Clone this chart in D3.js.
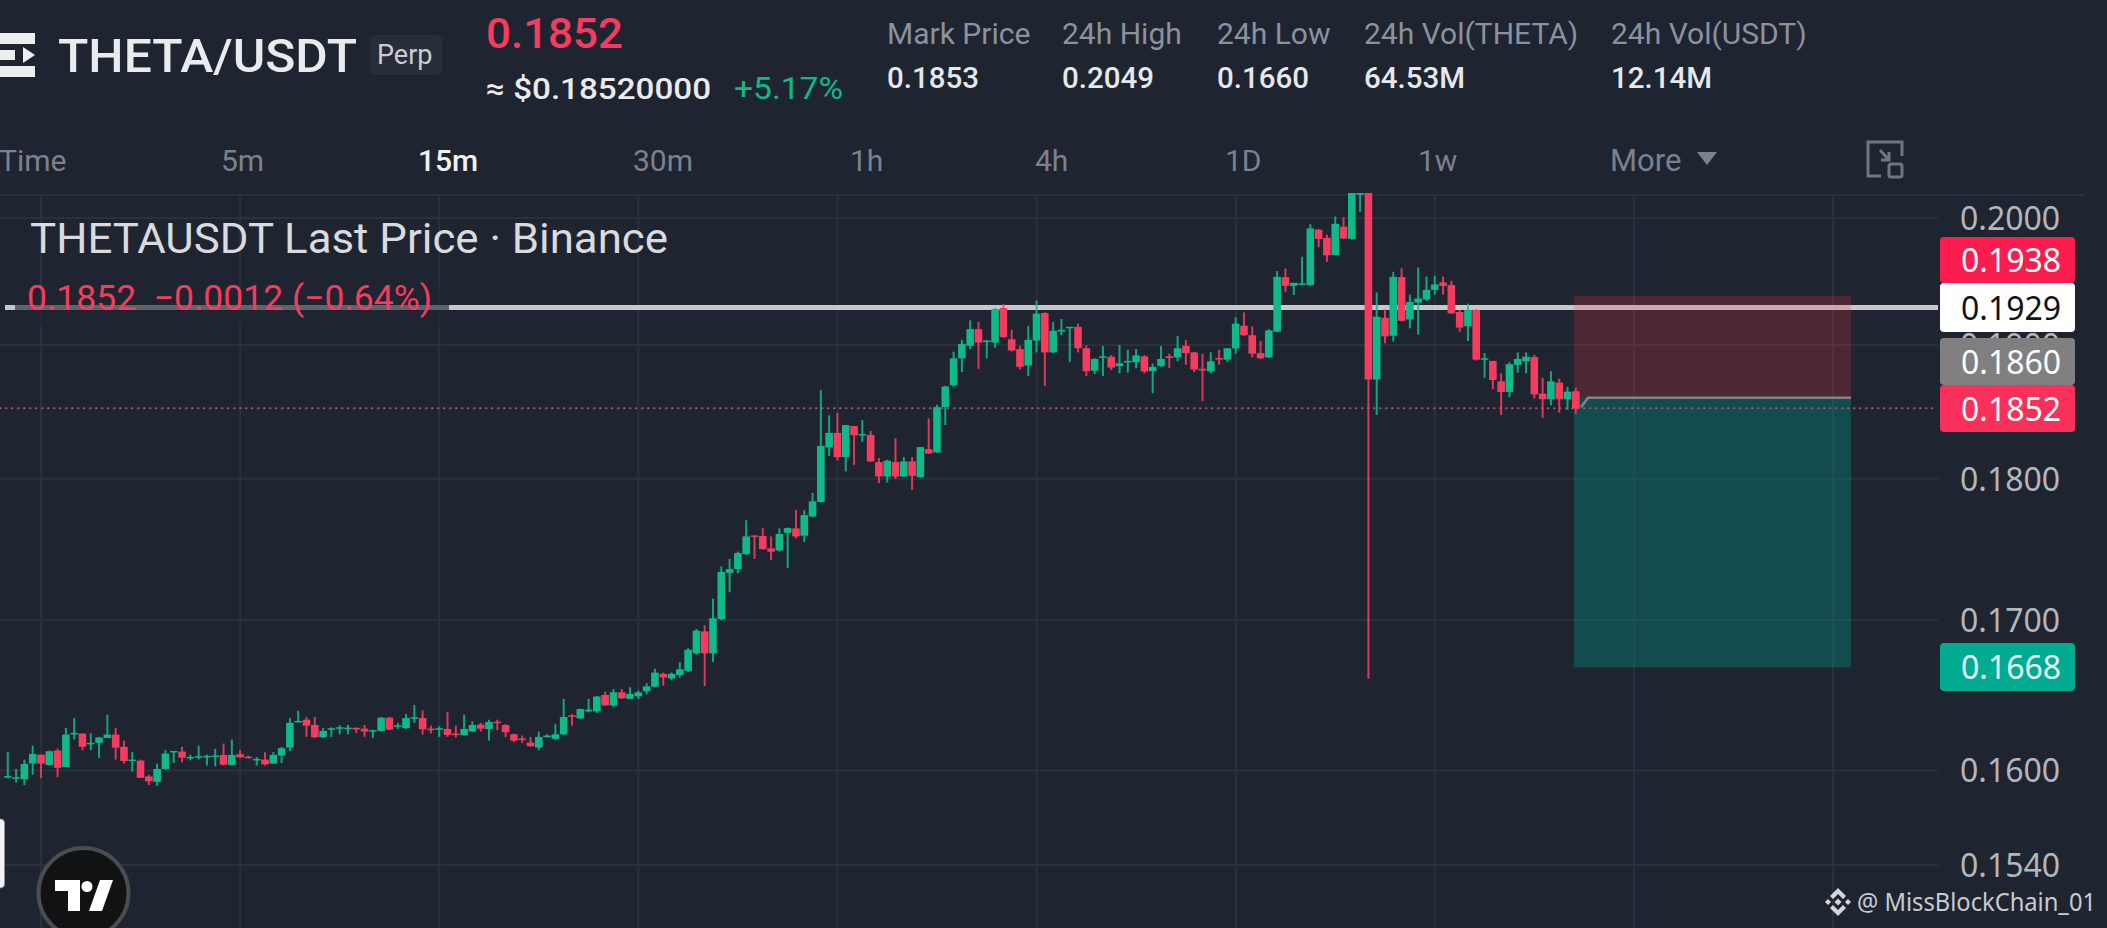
<!DOCTYPE html>
<html>
<head>
<meta charset="utf-8">
<title>THETA/USDT</title>
<script src="https://cdn.jsdelivr.net/npm/d3@7"></script>
<style>
  html, body { margin: 0; padding: 0; background: #1e2531; overflow: hidden; }
  svg { display: block; }
  text { font-family: Roboto, sans-serif; }
  .axis-text { font-family: "Noto Sans", sans-serif; }
</style>
</head>
<body>
<div id="chart"></div>
<script>
// 15m candles
const opens = [
  0.15956,0.15948,0.15943,0.16044,0.16102,0.16035,0.16129,0.16022,0.16235,0.16240,
  0.16170,0.16179,0.16211,0.16233,0.16153,0.16061,0.16063,0.15961,0.15926,0.16009,
  0.16122,0.16122,0.16081,0.16083,0.16087,0.16087,0.16100,0.16035,0.16105,0.16089,
  0.16070,0.16070,0.16044,0.16096,0.16148,0.16316,0.16331,0.16296,0.16216,0.16268,
  0.16275,0.16275,0.16277,0.16272,0.16257,0.16257,0.16344,0.16288,0.16275,0.16340,
  0.16342,0.16272,0.16268,0.16270,0.16240,0.16229,0.16253,0.16299,0.16270,0.16318,
  0.16296,0.16235,0.16207,0.16181,0.16148,0.16218,0.16205,0.16235,0.16360,0.16340,
  0.16386,0.16386,0.16495,0.16425,0.16513,0.16469,0.16486,0.16519,0.16550,0.16636,
  0.16605,0.16629,0.16656,0.16775,0.16924,0.16775,0.17009,0.17329,0.17355,0.17461,
  0.17593,0.17589,0.17501,0.17487,0.17612,0.17643,0.17591,0.17728,0.17832,0.18229,
  0.18337,0.18159,0.18388,0.18320,0.18322,0.18122,0.18017,0.18122,0.18017,0.18127,
  0.18012,0.18217,0.18193,0.18529,0.18693,0.18898,0.18993,0.19122,0.19023,0.19018,
  0.19286,0.19044,0.18968,0.18843,0.19034,0.19247,0.18943,0.19104,0.19130,0.19140,
  0.18975,0.18803,0.18905,0.18910,0.18838,0.18868,0.18868,0.18913,0.18800,0.18838,
  0.18913,0.18905,0.18993,0.18943,0.18818,0.18798,0.18900,0.18888,0.18973,0.19148,
  0.19075,0.18938,0.18905,0.19102,0.19528,0.19459,0.19467,0.19465,0.19906,0.19840,
  0.19703,0.19929,0.19832,0.20189,0.20400,0.18737,0.19210,0.19071,0.19528,0.19197,
  0.19328,0.19352,0.19428,0.19486,0.19465,0.19255,0.19144,0.19270,0.18888,0.18878,
  0.18723,0.18643,0.18848,0.18875,0.18908,0.18630,0.18588,0.18713,0.18588,0.18648,
];
const highs = [
  0.16120,0.16009,0.16070,0.16161,0.16102,0.16129,0.16142,0.16277,0.16342,0.16240,
  0.16240,0.16218,0.16364,0.16277,0.16194,0.16120,0.16070,0.15972,0.16044,0.16131,
  0.16126,0.16153,0.16102,0.16161,0.16102,0.16140,0.16174,0.16201,0.16131,0.16096,
  0.16087,0.16118,0.16118,0.16153,0.16342,0.16390,0.16349,0.16349,0.16277,0.16281,
  0.16294,0.16296,0.16281,0.16296,0.16266,0.16349,0.16349,0.16310,0.16368,0.16429,
  0.16392,0.16292,0.16288,0.16382,0.16292,0.16364,0.16320,0.16310,0.16331,0.16331,
  0.16301,0.16240,0.16227,0.16218,0.16253,0.16235,0.16301,0.16469,0.16368,0.16405,
  0.16469,0.16488,0.16517,0.16535,0.16535,0.16546,0.16524,0.16574,0.16671,0.16645,
  0.16645,0.16715,0.16810,0.16941,0.16965,0.17149,0.17374,0.17426,0.17478,0.17702,
  0.17593,0.17645,0.17586,0.17643,0.17650,0.17775,0.17773,0.17898,0.18657,0.18468,
  0.18488,0.18395,0.18388,0.18432,0.18351,0.18151,0.18139,0.18298,0.18159,0.18159,
  0.18232,0.18444,0.18547,0.18690,0.18948,0.19039,0.19190,0.19179,0.19039,0.19286,
  0.19317,0.19117,0.18993,0.19148,0.19343,0.19252,0.19177,0.19200,0.19140,0.19164,
  0.18995,0.18898,0.18993,0.18923,0.19000,0.18963,0.18970,0.18923,0.18858,0.18993,
  0.18933,0.19070,0.19039,0.18948,0.18933,0.18945,0.18963,0.18975,0.19213,0.19252,
  0.19143,0.19031,0.19122,0.19577,0.19596,0.19483,0.19690,0.19950,0.19911,0.19866,
  0.20011,0.20005,0.20440,0.20490,0.20490,0.19407,0.19276,0.19570,0.19598,0.19391,
  0.19604,0.19533,0.19538,0.19533,0.19499,0.19270,0.19320,0.19276,0.18938,0.18878,
  0.18783,0.18868,0.18943,0.18943,0.18925,0.18750,0.18800,0.18743,0.18683,0.18675,
];
const lows = [
  0.15948,0.15922,0.15906,0.15972,0.15950,0.16031,0.15956,0.16022,0.16201,0.16131,
  0.16131,0.16081,0.16211,0.16070,0.16044,0.15993,0.15952,0.15906,0.15900,0.16004,
  0.16048,0.16052,0.16065,0.16070,0.16031,0.16026,0.16031,0.16031,0.16081,0.16076,
  0.16031,0.16031,0.16044,0.16048,0.16124,0.16314,0.16218,0.16211,0.16211,0.16218,
  0.16235,0.16235,0.16244,0.16218,0.16211,0.16253,0.16262,0.16270,0.16270,0.16310,
  0.16233,0.16240,0.16218,0.16218,0.16214,0.16227,0.16249,0.16253,0.16194,0.16262,
  0.16216,0.16183,0.16179,0.16153,0.16131,0.16214,0.16196,0.16231,0.16292,0.16336,
  0.16379,0.16375,0.16425,0.16414,0.16469,0.16469,0.16469,0.16499,0.16546,0.16557,
  0.16592,0.16612,0.16649,0.16764,0.16554,0.16716,0.17000,0.17194,0.17326,0.17454,
  0.17426,0.17492,0.17418,0.17478,0.17362,0.17572,0.17548,0.17723,0.17827,0.18168,
  0.18134,0.18054,0.18102,0.18271,0.18124,0.17969,0.17973,0.17998,0.18012,0.17920,
  0.18007,0.18183,0.18188,0.18395,0.18683,0.18793,0.18968,0.18818,0.18898,0.18978,
  0.19055,0.18950,0.18813,0.18763,0.18943,0.18688,0.18938,0.19075,0.18868,0.18943,
  0.18763,0.18778,0.18763,0.18808,0.18783,0.18788,0.18823,0.18783,0.18633,0.18833,
  0.18825,0.18875,0.18848,0.18793,0.18575,0.18783,0.18850,0.18868,0.18933,0.19070,
  0.18905,0.18893,0.18900,0.19097,0.19412,0.19388,0.19465,0.19459,0.19766,0.19648,
  0.19701,0.19832,0.19827,0.20050,0.16604,0.18472,0.19013,0.19026,0.19181,0.19128,
  0.19079,0.19341,0.19391,0.19391,0.19239,0.19102,0.19031,0.18880,0.18750,0.18663,
  0.18470,0.18603,0.18788,0.18783,0.18593,0.18448,0.18543,0.18488,0.18508,0.18478,
];
const closes = [
  0.15963,0.15956,0.16041,0.16107,0.16044,0.16124,0.16017,0.16233,0.16244,0.16153,
  0.16179,0.16214,0.16233,0.16148,0.16061,0.16070,0.15952,0.15930,0.16009,0.16109,
  0.16126,0.16083,0.16087,0.16092,0.16094,0.16096,0.16037,0.16100,0.16085,0.16083,
  0.16074,0.16039,0.16100,0.16144,0.16310,0.16323,0.16292,0.16216,0.16257,0.16275,
  0.16281,0.16279,0.16270,0.16253,0.16262,0.16344,0.16266,0.16294,0.16342,0.16347,
  0.16268,0.16266,0.16275,0.16231,0.16233,0.16270,0.16296,0.16272,0.16316,0.16312,
  0.16249,0.16194,0.16198,0.16157,0.16218,0.16227,0.16235,0.16349,0.16351,0.16401,
  0.16397,0.16484,0.16425,0.16513,0.16473,0.16502,0.16513,0.16552,0.16645,0.16612,
  0.16636,0.16667,0.16799,0.16929,0.16775,0.17014,0.17336,0.17355,0.17468,0.17586,
  0.17586,0.17496,0.17478,0.17603,0.17645,0.17586,0.17738,0.17837,0.18241,0.18337,
  0.18159,0.18395,0.18320,0.18329,0.18127,0.18017,0.18132,0.18017,0.18127,0.18022,
  0.18232,0.18185,0.18529,0.18684,0.18898,0.19008,0.19122,0.19018,0.19034,0.19278,
  0.19060,0.18958,0.18833,0.19039,0.19242,0.18943,0.19109,0.19117,0.19140,0.18975,
  0.18800,0.18893,0.18913,0.18828,0.18860,0.18878,0.18920,0.18798,0.18833,0.18893,
  0.18900,0.18975,0.18938,0.18813,0.18805,0.18875,0.18888,0.18975,0.19164,0.19075,
  0.18933,0.18898,0.19112,0.19530,0.19459,0.19483,0.19478,0.19916,0.19832,0.19701,
  0.19953,0.19835,0.20350,0.20400,0.18737,0.19218,0.19066,0.19530,0.19186,0.19333,
  0.19360,0.19428,0.19470,0.19459,0.19244,0.19134,0.19270,0.18888,0.18898,0.18733,
  0.18643,0.18853,0.18893,0.18910,0.18625,0.18588,0.18723,0.18588,0.18645,0.18518,
];

const priceTicks = [0.2, 0.19, 0.18, 0.17, 0.16, 0.154];
const timeGrid = [4, 28, 52, 76, 100, 124, 148, 172, 196, 220];

const lastPrice = 0.1852;
const stopPrice = 0.1938;
const linePrice = 0.1929;
const entryPrice = 0.186;
const targetPrice = 0.1668;

const statNames = ["Mark Price", "24h High", "24h Low", "24h Vol(THETA)", "24h Vol(USDT)"];
const statValues = ["0.1853", "0.2049", "0.1660", "64.53M", "12.14M"];
const intervals = ["Time", "5m", "15m", "30m", "1h", "4h", "1D", "1w", "More"];

const GREEN = "#10b988";
const RED = "#f63c5e";
const GRID = "#2b313c";

const width = 2107;
const height = 928;
const paneRight = 1938;
const paneTop = 193;

const candles = opens.map((open, i) => ({
  i, open, high: highs[i], low: lows[i], close: closes[i],
}));

const xScale = d3.scaleLinear().domain([4, 220]).range([41, 1833]);
const yScale = d3.scaleLog().domain([0.2, 0.154]).range([218, 865]);

const svg = d3.select("#chart").append("svg")
  .attr("width", width)
  .attr("height", height)
  .attr("viewBox", `0 0 ${width} ${height}`);

svg.append("rect").attr("width", width).attr("height", height).attr("fill", "#1e2531");

function label(parent, x, y, text, size, fill, weight = 400, anchor = "start") {
  return parent.append("text")
    .attr("x", x)
    .attr("y", y)
    .attr("font-size", size)
    .attr("font-weight", weight)
    .attr("fill", fill)
    .attr("text-anchor", anchor)
    .text(text);
}

// the screenshot is slightly wider than the plain font, so stretch to the measured width
function fit(sel, w) {
  return sel.attr("textLength", w).attr("lengthAdjust", "spacingAndGlyphs");
}

function renderHeader() {
  const head = svg.append("g");

  // menu icon, cut off by the left edge
  head.append("rect").attr("x", 0).attr("y", 33).attr("width", 35).attr("height", 11).attr("fill", "#eceef0");
  head.append("rect").attr("x", 0).attr("y", 50).attr("width", 15).attr("height", 10).attr("fill", "#eceef0");
  head.append("path").attr("d", "M23 47 L35 55 L23 63 Z").attr("fill", "#eceef0");
  head.append("rect").attr("x", 0).attr("y", 66).attr("width", 35).attr("height", 11).attr("fill", "#eceef0");

  fit(label(head, 58, 72, "THETA/USDT", 47, "#e9ebee", 500), 299);
  head.append("rect")
    .attr("x", 370).attr("y", 35).attr("width", 72).attr("height", 40).attr("rx", 5)
    .attr("fill", "#272e39");
  label(head, 377, 64, "Perp", 27, "#c9cdd3");

  fit(label(head, 486, 48, "0.1852", 42, RED, 500), 137);
  fit(label(head, 486, 99, "≈ $0.18520000", 30, "#e9ebee", 500), 225);
  fit(label(head, 734, 99, "+5.17%", 31, GREEN, 400), 109);

  const statX = [887, 1062, 1217, 1364, 1611];
  statNames.forEach((name, i) => {
    label(head, statX[i], 44, name, 30, "#8b929e");
    label(head, statX[i], 88, statValues[i], 29.5, "#e6e8eb", 500);
  });

  const intervalX = [-1, 221, 418, 633, 850, 1035, 1225, 1418, 1610];
  intervals.forEach((name, i) => {
    const active = name === "15m";
    label(head, intervalX[i], 171, name, name === "More" ? 31 : 30, active ? "#f0f1f3" : "#7b828e", active ? 500 : 400);
  });
  head.append("path").attr("d", "M1697 152 H1717 L1707 165 Z").attr("fill", "#7b828e");

  head.append("path")
    .attr("d", "M1881 176 H1868 V142 H1902 V156 M1880 150 L1889 160 M1889 152 V160 H1881")
    .attr("fill", "none")
    .attr("stroke", "#6f7680")
    .attr("stroke-width", 3);
  head.append("rect")
    .attr("x", 1889).attr("y", 164).attr("width", 13).attr("height", 13).attr("rx", 2)
    .attr("fill", "none")
    .attr("stroke", "#6f7680")
    .attr("stroke-width", 3);
}

function renderGrid() {
  const grid = svg.append("g").attr("stroke", GRID).attr("stroke-width", 2);

  grid.append("line")
    .attr("x1", 0).attr("x2", 2085)
    .attr("y1", 195).attr("y2", 195);

  grid.selectAll(".h")
    .data(priceTicks)
    .join("line")
    .attr("x1", 0)
    .attr("x2", paneRight)
    .attr("y1", (d) => yScale(d))
    .attr("y2", (d) => yScale(d));

  grid.selectAll(".v")
    .data(timeGrid)
    .join("line")
    .attr("x1", (d) => xScale(d))
    .attr("x2", (d) => xScale(d))
    .attr("y1", 195)
    .attr("y2", height);
}

function renderDrawings() {
  const g = svg.append("g");

  g.append("line")
    .attr("x1", 5).attr("x2", paneRight)
    .attr("y1", yScale(linePrice)).attr("y2", yScale(linePrice))
    .attr("stroke", "#c6c8cc")
    .attr("stroke-width", 5);

  // long position tool
  const left = 1574;
  const right = 1851;
  g.append("rect")
    .attr("x", left).attr("width", right - left)
    .attr("y", yScale(stopPrice))
    .attr("height", yScale(entryPrice) - yScale(stopPrice))
    .attr("fill", "rgba(242,54,69,0.22)");
  g.append("rect")
    .attr("x", left).attr("width", right - left)
    .attr("y", yScale(entryPrice))
    .attr("height", yScale(targetPrice) - yScale(entryPrice))
    .attr("fill", "rgba(0,150,136,0.35)");
  g.append("path")
    .attr("d", `M1581 ${yScale(lastPrice) - 1} L1588 ${yScale(entryPrice)} H${right}`)
    .attr("fill", "none")
    .attr("stroke", "#7f8489")
    .attr("stroke-width", 2.5);

  g.append("line")
    .attr("x1", 0).attr("x2", paneRight)
    .attr("y1", yScale(lastPrice)).attr("y2", yScale(lastPrice))
    .attr("stroke", "#b0506c")
    .attr("stroke-width", 2)
    .attr("stroke-linecap", "round")
    .attr("stroke-dasharray", "0.5 5.5");
}

function renderCandles() {
  svg.append("clipPath").attr("id", "pane")
    .append("rect")
    .attr("x", 0).attr("y", paneTop)
    .attr("width", paneRight).attr("height", height - paneTop);

  const g = svg.append("g").attr("clip-path", "url(#pane)");
  const color = (d) => (d.close >= d.open ? GREEN : RED);

  g.selectAll(".wick")
    .data(candles)
    .join("line")
    .attr("x1", (d) => xScale(d.i))
    .attr("x2", (d) => xScale(d.i))
    .attr("y1", (d) => yScale(d.high))
    .attr("y2", (d) => yScale(d.low))
    .attr("stroke", color)
    .attr("stroke-opacity", 0.88)
    .attr("stroke-width", 2);

  g.selectAll(".body")
    .data(candles)
    .join("rect")
    .attr("x", (d) => xScale(d.i) - 3.8)
    .attr("width", 7.6)
    .attr("y", (d) => yScale(Math.max(d.open, d.close)))
    .attr("height", (d) => Math.max(1.5, Math.abs(yScale(d.open) - yScale(d.close))))
    .attr("fill", color);
}

function renderLegend() {
  const g = svg.append("g");

  g.append("rect")
    .attr("x", 15).attr("y", 286).attr("width", 434).attr("height", 40)
    .attr("fill", "#1e2531")
    .attr("fill-opacity", 0.62);

  fit(label(g, 30, 253, "THETAUSDT Last Price · Binance", 43, "#d9dbde"), 638);
  fit(label(g, 27, 310, "0.1852  −0.0012 (−0.64%)", 35, RED), 405)
    .attr("xml:space", "preserve")
    .style("white-space", "pre");
}

function renderAxis() {
  const axis = d3.axisRight(yScale)
    .tickValues(priceTicks)
    .tickSize(0)
    .tickPadding(0)
    .tickFormat((d) => d.toFixed(4));

  const g = svg.append("g")
    .attr("transform", "translate(1960, 1)")
    .call(axis);

  g.select(".domain").remove();
  g.selectAll("text")
    .attr("class", "axis-text")
    .attr("font-size", 32)
    .attr("fill", "#b3b6bb")
    .style("font-family", '"Noto Sans", sans-serif');

  const boxes = [
    { price: stopPrice, top: 237, h: 46, fill: "#fb1d4d", ink: "#ffffff" },
    { price: linePrice, top: 283, h: 49, fill: "#ffffff", ink: "#101216" },
    { price: entryPrice, top: 338, h: 47, fill: "#808080", ink: "#ffffff" },
    { price: lastPrice, top: 385, h: 47, fill: "#f8305a", ink: "#ffffff" },
    { price: targetPrice, top: 643, h: 48, fill: "#00ab92", ink: "#e8fbf6" },
  ];

  const tags = svg.append("g").selectAll("g").data(boxes).join("g");

  tags.append("rect")
    .attr("x", 1940)
    .attr("y", (d) => d.top)
    .attr("width", 135)
    .attr("height", (d) => d.h)
    .attr("rx", 4)
    .attr("fill", (d) => d.fill);

  tags.append("text")
    .attr("class", "axis-text")
    .attr("x", 1961)
    .attr("y", (d) => d.top + d.h / 2 + 12)
    .attr("font-size", 32)
    .attr("fill", (d) => d.ink)
    .style("font-family", '"Noto Sans", sans-serif')
    .text((d) => d.price.toFixed(4));
}

function renderLogos() {
  // white tab on the left edge
  svg.append("rect")
    .attr("x", -8).attr("y", 819).attr("width", 12.5).attr("height", 69).attr("rx", 4)
    .attr("fill", "#f2f3f4")
    .attr("stroke", "#8d9096")
    .attr("stroke-width", 1);

  const tv = svg.append("g");
  tv.append("circle")
    .attr("cx", 83.5).attr("cy", 893).attr("r", 45)
    .attr("fill", "#111214")
    .attr("stroke", "#4b4c4e")
    .attr("stroke-width", 4);
  tv.append("path").attr("d", "M55 880 H80 V911 H68 V891 H55 Z").attr("fill", "#ffffff");
  tv.append("circle").attr("cx", 87).attr("cy", 886.5).attr("r", 5.5).attr("fill", "#ffffff");
  tv.append("path").attr("d", "M100 880 H113 L102 911 H89 Z").attr("fill", "#ffffff");

  const mark = svg.append("g").attr("transform", "translate(1838, 902)").attr("fill", "#d4d6d9");
  mark.append("path").attr("d", "M0 -14 L8 -6 L5 -3 L0 -8 L-5 -3 L-8 -6 Z");
  mark.append("path").attr("d", "M0 14 L8 6 L5 3 L0 8 L-5 3 L-8 6 Z");
  mark.append("path").attr("d", "M0 -3.5 L3.5 0 L0 3.5 L-3.5 0 Z");
  mark.append("path").attr("d", "M-10 -3 L-7 0 L-10 3 L-13 0 Z");
  mark.append("path").attr("d", "M10 -3 L13 0 L10 3 L7 0 Z");

  fit(label(svg, 1857, 911, "@ MissBlockChain_01", 24.5, "#c9cbce"), 239)
    .style("font-family", '"Noto Sans", sans-serif');
}

renderHeader();
renderGrid();
renderDrawings();
renderCandles();
renderLegend();
renderAxis();
renderLogos();
</script>
</body>
</html>
